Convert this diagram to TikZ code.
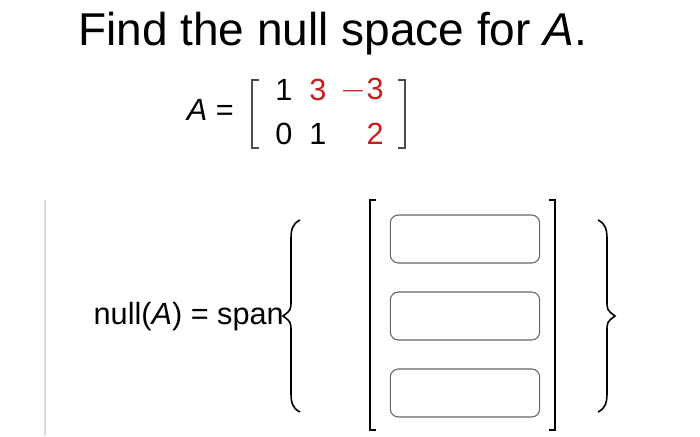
\documentclass[tikz,border=0pt]{standalone}
\usepackage{fontspec}
\setmainfont{Liberation Sans}
\usepackage{xcolor}
\usetikzlibrary{positioning}
\definecolor{entryred}{RGB}{200,30,30}
\tikzset{
  entry/.style={font=\fontsize{23}{26}\selectfont, inner sep=0pt},
  redentry/.style={entry, text=entryred},
  answerbox/.style={draw=gray!80!black, line width=0.8pt, rounded corners=6pt, minimum width=112pt, minimum height=36pt, inner sep=0pt},
  delim/.style={line width=1.2pt}
}
\begin{document}
\begin{tikzpicture}[x=0.75pt,y=0.75pt,yscale=-1,xscale=1]
        \useasboundingbox (0,0) rectangle (700,436);
        % title
        \node (title) [anchor=base west, inner sep=0pt, font=\fontsize{34.5}{40}\selectfont] at (78,45) {Find the null space for \textit{A}.};
        % matrix A
        \node (lhs) [entry, anchor=east] at (234,110) {\textit{A} =};
        \draw [delim, gray!60!black] (259,80) -- (252,80) -- (252,148) -- (259,148);
        \draw [delim, gray!60!black] (398,80) -- (405,80) -- (405,148) -- (398,148);
        \node (a11) [entry] at (284,90) {1};
        \node (a12) [redentry] at (318,90) {3};
        \node (a13) [redentry, anchor=east] at (384,90) {$-$3};
        \node (a21) [entry] at (284,134) {0};
        \node (a22) [entry] at (318,134) {1};
        \node (a23) [redentry, anchor=east] at (384,134) {2};
        % null space
        \draw [gray!30, line width=0.8pt] (45,200) -- (45,436);
        \node (span) [entry, anchor=east] at (284,317) {null(\textit{A}) = span};
        \draw [delim] (300,220) .. controls (292,224) and (291,230) .. (291,240) -- (291,300)
              .. controls (291,310) .. (283,316) .. controls (291,322) .. (291,332) -- (291,392)
              .. controls (291,402) and (292,408) .. (300,412);
        \draw [delim] (598,220) .. controls (606,224) and (607,230) .. (607,240) -- (607,300)
              .. controls (607,310) .. (615,316) .. controls (607,322) .. (607,332) -- (607,392)
              .. controls (607,402) and (606,408) .. (598,412);
        \draw [delim] (376,200) -- (370,200) -- (370,430) -- (376,430);
        \draw [delim] (549,200) -- (555,200) -- (555,430) -- (549,430);
        \node (box1) [answerbox] at (465,239) {};
        \node (box2) [answerbox] at (465,316) {};
        \node (box3) [answerbox] at (465,393) {};
    \end{tikzpicture}
\end{document}
